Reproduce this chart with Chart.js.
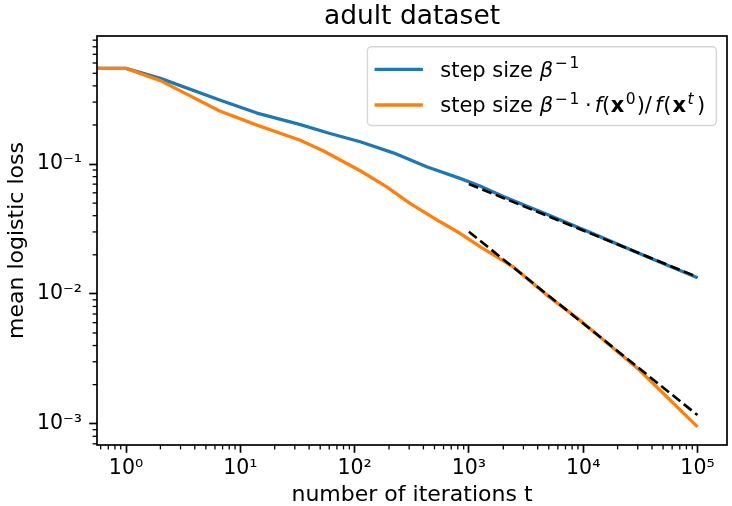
<!DOCTYPE html>
<html><head><meta charset="utf-8">
<script src="https://cdn.jsdelivr.net/npm/chart.js@4.4.0/dist/chart.umd.min.js"></script>
<style>html,body{margin:0;padding:0;background:#fff;}</style>
</head><body>
<canvas id="c" width="732" height="506"></canvas>
<script>
// ---------- data ----------
const chartTitle = 'adult dataset';
const xAxisLabel = 'number of iterations t';
const yAxisLabel = 'mean logistic loss';
const seriesNames = ['step size β⁻¹', 'step size β⁻¹ · f(x⁰)/f(xᵗ)'];

const iterBlue = [0.5, 1, 2, 6.6, 14, 33, 61, 112, 218, 427, 836, 1250, 2000, 5100, 14000, 38000, 100000];
const lossBlue = [0.546, 0.546, 0.457, 0.311, 0.247, 0.202, 0.172, 0.1485, 0.122, 0.0953, 0.0776, 0.0677, 0.0563, 0.0401, 0.0276, 0.0190, 0.0133];

const iterOrange = [0.5, 1, 2, 6.6, 14, 33, 53, 112, 191, 305, 560, 836, 1250, 2400, 5100, 9900, 31000, 100000];
const lossOrange = [0.546, 0.546, 0.439, 0.256, 0.1995, 0.153, 0.1266, 0.0888, 0.0668, 0.0498, 0.0359, 0.0293, 0.0231, 0.0163, 0.0094, 0.00603, 0.00259, 0.000946];

const fitIter = [1000, 100000];
const fitBlue = [0.0702, 0.0135];
const fitOrange = [0.0301, 0.001165];

const xRange = [0.5575, 181200];
const yRange = [0.0006855, 0.9686];

const xTickExps = [0, 1, 2, 3, 4, 5];
const xTickLabels = ['10⁰', '10¹', '10²', '10³', '10⁴', '10⁵'];
const yTickExps = [-3, -2, -1];
const yTickLabels = ['10⁻³', '10⁻²', '10⁻¹'];

// ---------- helpers ----------
const FONT = "'DejaVu Sans'";
function pts(xs, ys) { return xs.map((x, i) => ({x: x, y: ys[i]})); }
function logTicks(min, max) {
  const out = [];
  for (let e = Math.floor(Math.log10(min)); e <= Math.ceil(Math.log10(max)); e++) {
    for (let m = 1; m <= 9; m++) {
      const v = parseFloat((m * Math.pow(10, e)).toPrecision(6));
      if (v >= min && v <= max) out.push({value: v, major: m === 1});
    }
  }
  return out;
}
function labelMaker(exps, labels) {
  return function (value, index, ticks) {
    const t = ticks[index];
    if (!t || !t.major) return '';
    const k = exps.indexOf(Math.round(Math.log10(value)));
    return k >= 0 ? labels[k] : '';
  };
}
const tickColor = c => (c.tick && c.tick.major) ? '#000' : 'rgba(0,0,0,0)';

// frame + minor ticks
const framePlugin = {
  id: 'frame',
  afterDraw(chart) {
    const c = chart.ctx, a = chart.chartArea;
    c.save();
    c.strokeStyle = '#000';
    c.lineWidth = 1.3;
    const xs = chart.scales.x, ys = chart.scales.y;
    xs.ticks.forEach(t => {
      if (t.major) return;
      const px = xs.getPixelForValue(t.value);
      c.beginPath(); c.moveTo(px, a.bottom); c.lineTo(px, a.bottom + 4.4); c.stroke();
    });
    ys.ticks.forEach(t => {
      if (t.major) return;
      const py = ys.getPixelForValue(t.value);
      c.beginPath(); c.moveTo(a.left, py); c.lineTo(a.left - 4.4, py); c.stroke();
    });
    c.lineWidth = 1.7;
    c.strokeRect(a.left, a.top, a.right - a.left, a.bottom - a.top);
    c.restore();
  }
};

// rich legend (mathtext-like)
const legendPlugin = {
  id: 'richLegend',
  afterDraw(chart) {
    const c = chart.ctx, a = chart.chartArea;
    const fs = 21, ss = 15.5, rise = 8.6;
    const betaInv = [{t: 'β', it: 1}, {gap: 2}, {t: '−', sup: 1}, {gap: 1.5}, {t: '1', sup: 1}];
    const rows = [
      [{t: 'step size '}].concat(betaInv),
      [{t: 'step size '}].concat(betaInv, [{gap: 5.5}, {t: '·'}, {gap: 3},
       {t: 'f', it: 1}, {t: '('}, {gap: 0.5}, {t: 'x', bold: 1}, {gap: 1.5}, {t: '0', sup: 1}, {gap: 1}, {t: ')/'}, {gap: 3},
       {t: 'f', it: 1}, {gap: 1}, {t: '('}, {gap: 1}, {t: 'x', bold: 1}, {gap: 1.5}, {t: 't', sup: 1, it: 1}, {gap: 3.5}, {t: ')'}])
    ];
    const fontFor = s => (s.it ? 'italic ' : '') + (s.bold ? 'bold ' : '') + (s.sup ? ss : fs) + 'px ' + FONT;
    c.save();
    const widths = rows.map(r => r.reduce((w, s) => {
      if (s.gap) return w + s.gap;
      c.font = fontFor(s); return w + c.measureText(s.t).width;
    }, 0));
    const textW = Math.max.apply(null, widths);
    const padL = 7.2, handle = 48.3, tpad = 17.3, padR = 11;
    const boxW = padL + handle + tpad + textW + padR;
    const boxH = 78.8;
    const bx = a.right - 10.7 - boxW, by = a.top + 10.7;
    c.beginPath();
    if (c.roundRect) c.roundRect(bx, by, boxW, boxH, 4); else c.rect(bx, by, boxW, boxH);
    c.fillStyle = 'rgba(255,255,255,0.8)';
    c.fill();
    c.strokeStyle = '#d6d6d6';
    c.lineWidth = 1.4;
    c.stroke();
    const colors = chart.data.datasets.slice(0, 2).map(d => d.borderColor);
    const rowMid = [by + 22.6, by + 58.3];
    rows.forEach((r, i) => {
      c.strokeStyle = colors[i];
      c.lineWidth = 3.3;
      c.beginPath();
      c.moveTo(bx + padL, rowMid[i]); c.lineTo(bx + padL + handle, rowMid[i]); c.stroke();
      let x = bx + padL + handle + tpad;
      const base = rowMid[i] + 7.4;
      c.fillStyle = '#000';
      c.textBaseline = 'alphabetic';
      c.textAlign = 'left';
      r.forEach(s => {
        if (s.gap) { x += s.gap; return; }
        c.font = fontFor(s);
        c.fillText(s.t, x, s.sup ? base - rise : base);
        x += c.measureText(s.t).width;
      });
    });
    c.restore();
  }
};

Chart.defaults.font.family = FONT;
Chart.defaults.color = '#000';

new Chart(document.getElementById('c'), {
  type: 'line',
  data: {
    datasets: [
      {label: seriesNames[0], data: pts(iterBlue, lossBlue), borderColor: '#1f77b4', borderWidth: 3.3,
       pointRadius: 0, fill: false, tension: 0, borderJoinStyle: 'round', order: 3},
      {label: seriesNames[1], data: pts(iterOrange, lossOrange), borderColor: '#ff7f0e', borderWidth: 3.3,
       pointRadius: 0, fill: false, tension: 0, borderJoinStyle: 'round', order: 2},
      {label: 'fit 1', data: pts(fitIter, fitBlue), borderColor: '#000', borderWidth: 2.6,
       borderDash: [10, 4.5], pointRadius: 0, fill: false, order: 1},
      {label: 'fit 2', data: pts(fitIter, fitOrange), borderColor: '#000', borderWidth: 2.6,
       borderDash: [10, 4.5], pointRadius: 0, fill: false, order: 0}
    ]
  },
  options: {
    responsive: false,
    animation: false,
    events: [],
    layout: {padding: {left: 0, right: 5, top: 0, bottom: 0}},
    plugins: {
      legend: {display: false},
      tooltip: {enabled: false},
      title: {display: true, text: chartTitle, color: '#000', fullSize: false,
              font: {size: 26.5, weight: 'normal', family: FONT, lineHeight: 1.2},
              padding: {top: 1, bottom: 3.2}}
    },
    scales: {
      x: {
        type: 'logarithmic', position: 'bottom', min: xRange[0], max: xRange[1],
        afterBuildTicks: s => { s.ticks = logTicks(s.min, s.max); },
        afterFit: s => { s.height = 61; },
        ticks: {autoSkip: false, maxRotation: 0, minRotation: 0, padding: 5.5, color: '#000',
                font: {size: 20.5, lineHeight: 1}, callback: labelMaker(xTickExps, xTickLabels)},
        grid: {display: true, drawOnChartArea: false, drawTicks: true, tickLength: 7.8,
               tickWidth: 1.7, tickColor: tickColor},
        border: {display: false},
        title: {display: true, text: xAxisLabel, color: '#000', font: {size: 22, lineHeight: 1},
                padding: {top: 0, bottom: 0}}
      },
      y: {
        type: 'logarithmic', position: 'left', min: yRange[0], max: yRange[1],
        afterBuildTicks: s => { s.ticks = logTicks(s.min, s.max); },
        afterFit: s => { s.width = 97; },
        ticks: {autoSkip: false, padding: 7.2, color: '#000',
                font: {size: 20.5, lineHeight: 1}, callback: labelMaker(yTickExps, yTickLabels)},
        grid: {display: true, drawOnChartArea: false, drawTicks: true, tickLength: 7.8,
               tickWidth: 1.7, tickColor: tickColor},
        border: {display: false},
        title: {display: true, text: yAxisLabel, color: '#000', font: {size: 22, lineHeight: 1},
                padding: {top: 6, bottom: 0}}
      }
    }
  },
  plugins: [framePlugin, legendPlugin]
});
</script>
</body></html>
